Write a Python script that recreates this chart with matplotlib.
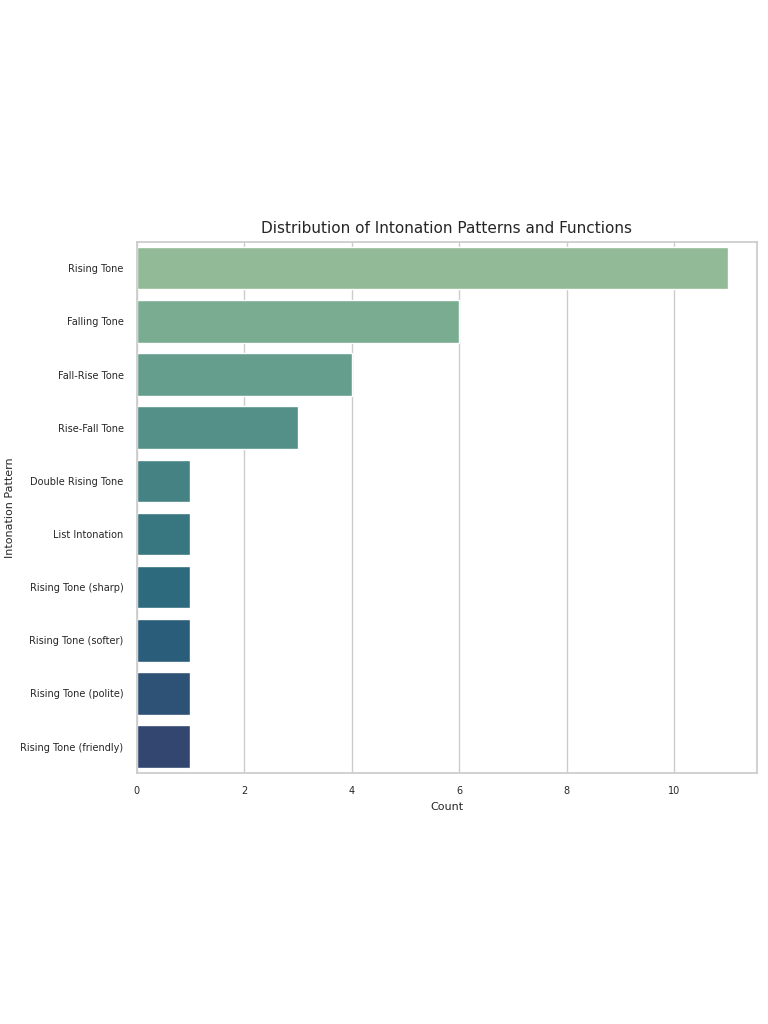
import matplotlib
matplotlib.use("Agg")
import matplotlib.pyplot as plt
import seaborn as sns

patterns = ["Rising Tone", "Falling Tone", "Fall-Rise Tone", "Rise-Fall Tone",
            "Double Rising Tone", "List Intonation", "Rising Tone (sharp)",
            "Rising Tone (softer)", "Rising Tone (polite)", "Rising Tone (friendly)"]
counts = [11, 6, 4, 3, 1, 1, 1, 1, 1, 1]

sns.set_theme(style="whitegrid")
plt.rcParams['font.family'] = ['DejaVu Sans']

fig = plt.figure(figsize=(7.68, 10.24), dpi=100)
ax = fig.add_axes([0.178, 0.245, 0.808, 0.519])
sns.barplot(x=counts, y=patterns, hue=patterns, palette="crest", legend=False, ax=ax)
ax.set_title("Distribution of Intonation Patterns and Functions", fontsize=11)
ax.set_xlabel("Count", fontsize=8)
ax.set_ylabel("Intonation Pattern", fontsize=8)
ax.tick_params(labelsize=7)
fig.savefig("out.png", dpi=100)
